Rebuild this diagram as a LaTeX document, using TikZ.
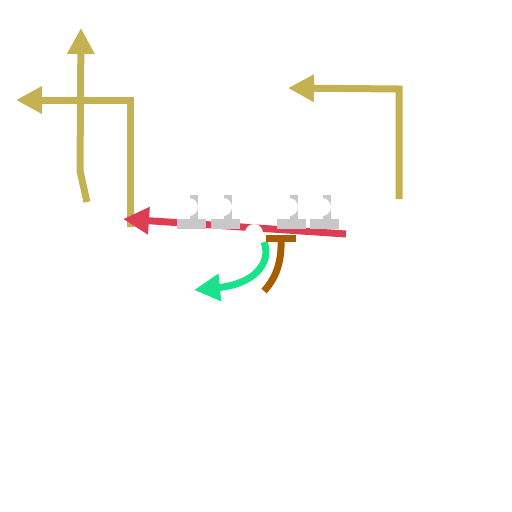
\documentclass[tikz,border=0pt]{standalone}
\usepackage{xcolor}
\usepackage{tikz}
\usetikzlibrary{arrows.meta}
\usetikzlibrary{calc}

\definecolor{routegold}{RGB}{196,177,82}
\definecolor{blockred}{RGB}{220,61,84}
\definecolor{runGreen}{RGB}{26,226,139}
\definecolor{leadbrown}{RGB}{166,94,0}
\definecolor{lineGray}{RGB}{200,200,200}

\begin{document}
\begin{tikzpicture}[x=1pt,y=-1pt,>={Triangle[length=26pt,width=26pt]},line width=7pt,line join=miter]
						\tikzstyle{route}=[draw=routegold]
						\tikzstyle{lineman}=[fill=lineGray]
						\useasboundingbox (0,0) rectangle (512,512);

						% receivers
						\coordinate (WRa) at (87,202);
						\coordinate (WRb) at (80,171);
						\coordinate (WRc) at (81,28);
						\coordinate (SLa) at (130,227);
						\coordinate (SLb) at (130,100);
						\coordinate (SLc) at (16,100);
						\coordinate (TEa) at (399,199);
						\coordinate (TEb) at (399,89);
						\coordinate (TEc) at (288,88);

						% line and backfield
						\coordinate (QBa) at (346,234);
						\coordinate (QBb) at (123,219);
						\coordinate (ball) at (254,233);
						\coordinate (RBa) at (264,242);
						\coordinate (RBb) at (194,290);
						\coordinate (FBl) at (266,238);
						\coordinate (FBr) at (296,238);
						\coordinate (FBa) at (281,238);
						\coordinate (FBb) at (264,291);

						\draw[route,->] (WRa) -- (WRb) -- (WRc);
						\draw[route,->] (SLa) -- (SLb) -- (SLc);
						\draw[route,->] (TEa) -- (TEb) -- (TEc);

						\draw[blockred,->] (QBa) -- (QBb);

						\foreach \x/\n in {194/L1, 228/L2, 294/L3, 327/L4} {
							\fill[lineman] (\x-4,195) rectangle (\x+4,222);
							\fill[lineman] (\x-17,219) rectangle (\x+12,229);
							\fill[white] (\x-5,207) circle (9);
						}

						\fill[white] (ball) circle (9);

						\draw[runGreen,->] (RBa) .. controls (272,262) and (255,284) .. (RBb);
						\draw[leadbrown] (FBl) -- (FBr);
						\draw[leadbrown] (FBa) .. controls (282,262) and (276,278) .. (FBb);
				\end{tikzpicture}
\end{document}
